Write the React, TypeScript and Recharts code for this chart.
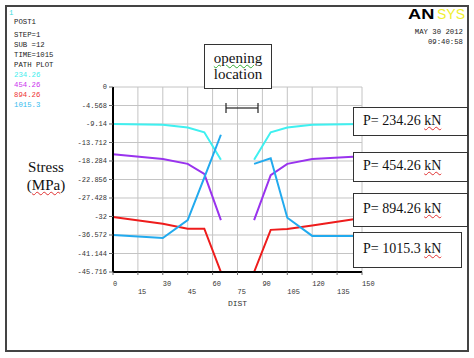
import React from 'react';
import { LineChart, Line, XAxis, YAxis, CartesianGrid } from 'recharts';

// path positions (DIST), 75 is the opening -> gap
const dist = [0, 30, 45, 55, 65, 75, 85, 95, 105, 120, 150];
const p234 = [-9.14, -9.3, -10.0, -11.2, -18.0, null, -18.0, -11.2, -10.0, -9.3, -9.14];
const p454 = [-16.6, -17.8, -19.0, -21.5, -32.9, null, -32.9, -21.8, -19.0, -17.8, -17.1];
const p894 = [-32.1, -33.8, -35.0, -35.0, -45.716, null, -45.716, -35.3, -35.1, -34.2, -32.4];
const p1015 = [-36.6, -37.3, -32.9, -22.4, -11.8, null, -19.0, -17.6, -32.3, -36.8, -36.8];

const xTicks = [0, 15, 30, 45, 60, 75, 90, 105, 120, 135, 150];
const yTicks = [0, -4.568, -9.14, -13.712, -18.284, -22.856, -27.428, -32, -36.572, -41.144, -45.716];

const loadLabels = ['234.26', '454.26', '894.26', '1015.3'];
const boxLabels = ['234.26', '454.26', '894.26', '1015.3'];

const data = dist.map((d, i) => ({ dist: d, p234: p234[i], p454: p454[i], p894: p894[i], p1015: p1015[i] }));

const series = [
  { key: 'p234', color: '#3ff0f0', legend: '#44eeee' },
  { key: 'p454', color: '#9933ee', legend: '#cc33ee' },
  { key: 'p894', color: '#ee1c1c', legend: '#ee3333' },
  { key: 'p1015', color: '#22aaee', legend: '#33bbee' },
];

const mono = '"Liberation Mono", "DejaVu Sans Mono", monospace';
const serif = '"Liberation Serif", "DejaVu Serif", serif';

function XTick({ x, y, payload, index }: any) {
  const low = index % 2 === 1;
  return (
    <text x={x} y={y + (low ? 19 : 11)} textAnchor="start" fontSize={7} fontFamily={mono} fill="#333">
      {payload.value}
    </text>
  );
}

const wavy = (c: string) => ({ textDecoration: `underline wavy ${c}`, textDecorationThickness: 1, textUnderlineOffset: 1 });

const boxes = [
  { top: 107, h: 29, w: 115 },
  { top: 152, h: 30, w: 115 },
  { top: 193, h: 34, w: 115 },
  { top: 232, h: 36, w: 109 },
];

export default function App() {
  return (
    <div style={{ position: 'absolute', left: 0, top: 0, width: 474, height: 358, background: '#fff', overflow: 'hidden' }}>
      <LineChart width={474} height={358} data={data} margin={{ top: 87, right: 112, bottom: 50, left: 0 }}>
        <CartesianGrid stroke="#c4c4c4" strokeWidth={1} horizontalValues={yTicks} verticalValues={xTicks} />
        <XAxis
          dataKey="dist" type="number" domain={[0, 150]} ticks={xTicks} interval={0}
          tick={<XTick />} tickSize={3} tickMargin={0} height={36}
          axisLine={{ stroke: '#000', strokeWidth: 2 }} tickLine={{ stroke: '#666' }}
          label={{ value: 'DIST', position: 'insideBottom', offset: 2, fontSize: 8, fontFamily: mono, fill: '#333' }}
        />
        <YAxis
          type="number" domain={[-45.716, 0]} ticks={yTicks} interval={0} width={113}
          tick={{ fontSize: 7, fontFamily: mono, fill: '#333' }} tickSize={4} tickMargin={2}
          axisLine={{ stroke: '#000', strokeWidth: 2 }} tickLine={{ stroke: '#666' }}
          allowDataOverflow
        />
        {series.map(s => (
          <Line key={s.key} dataKey={s.key} type="linear" stroke={s.color} strokeWidth={2}
            dot={false} activeDot={false} isAnimationActive={false} connectNulls={false} />
        ))}
      </LineChart>

      {/* outer frame */}
      <div style={{ position: 'absolute', left: 5, top: 5, width: 460, height: 343, border: '2px solid #444' }} />

      {/* ANSYS header text */}
      <div style={{ position: 'absolute', left: 0, top: 0, fontFamily: mono, fontSize: 7.3, color: '#222', lineHeight: '7px' }}>
        <div style={{ position: 'absolute', left: 9, top: 10, color: '#44dddd' }}>1</div>
        <div style={{ position: 'absolute', left: 14, top: 19 }}>POST1</div>
        <div style={{ position: 'absolute', left: 14, top: 32 }}>STEP=1</div>
        <div style={{ position: 'absolute', left: 14, top: 42 }}>SUB&nbsp;=12</div>
        <div style={{ position: 'absolute', left: 14, top: 52 }}>TIME=1015</div>
        <div style={{ position: 'absolute', left: 14, top: 62, whiteSpace: 'pre' }}>PATH PLOT</div>
        {loadLabels.map((l, i) => (
          <div key={l} style={{ position: 'absolute', left: 14, top: 72 + i * 10, color: series[i].legend }}>{l}</div>
        ))}
      </div>

      <div style={{ position: 'absolute', left: 408, top: 4, fontFamily: '"Liberation Sans", Arial, sans-serif', fontSize: 14, lineHeight: '20px', whiteSpace: 'pre' }}>
        <span style={{ display: 'inline-block', fontWeight: 900, color: '#000', transform: 'scaleX(1.3)', transformOrigin: 'left', width: 29 }}>AN</span>
        <span style={{ color: '#f0f030' }}>SYS</span>
      </div>
      <div style={{ position: 'absolute', right: 11, top: 27, fontFamily: mono, fontSize: 7.3, color: '#222', textAlign: 'right', lineHeight: '10px', whiteSpace: 'pre' }}>
        <div>MAY 30 2012</div>
        <div>09:40:58</div>
      </div>

      {/* y axis title */}
      <div style={{ position: 'absolute', left: 20, top: 158, width: 52, textAlign: 'center', fontFamily: serif, fontSize: 15, lineHeight: '18px', color: '#111' }}>
        <div>Stress</div>
        <div>(<span style={wavy('#e03030')}>MPa</span>)</div>
      </div>

      {/* opening location note */}
      <div style={{ position: 'absolute', left: 204, top: 44, width: 66, height: 43, border: '1px solid #333', background: '#fff', textAlign: 'center', fontFamily: serif, fontSize: 15, lineHeight: '16px', color: '#111', boxSizing: 'content-box' }}>
        <div style={{ marginTop: 5 }}><span style={wavy('#3a3')}>opening</span></div>
        <div>location</div>
      </div>
      <svg style={{ position: 'absolute', left: 0, top: 0 }} width={474} height={358}>
        <line x1={226} y1={108} x2={258} y2={108} stroke="#222" strokeWidth={1.2} />
        <line x1={226} y1={103} x2={226} y2={113} stroke="#222" strokeWidth={1.2} />
        <line x1={258} y1={103} x2={258} y2={113} stroke="#222" strokeWidth={1.2} />
      </svg>

      {/* load boxes */}
      {boxes.map((b, i) => (
        <div key={i} style={{ position: 'absolute', left: 353, top: b.top, width: b.w, height: b.h, border: '1px solid #333', background: '#fff', boxSizing: 'border-box', fontFamily: serif, fontSize: 14, color: '#111', lineHeight: `${b.h - 4}px`, paddingLeft: 9, whiteSpace: 'pre' }}>
          P= {boxLabels[i]} <span style={wavy('#e03030')}>kN</span>
        </div>
      ))}
    </div>
  );
}
